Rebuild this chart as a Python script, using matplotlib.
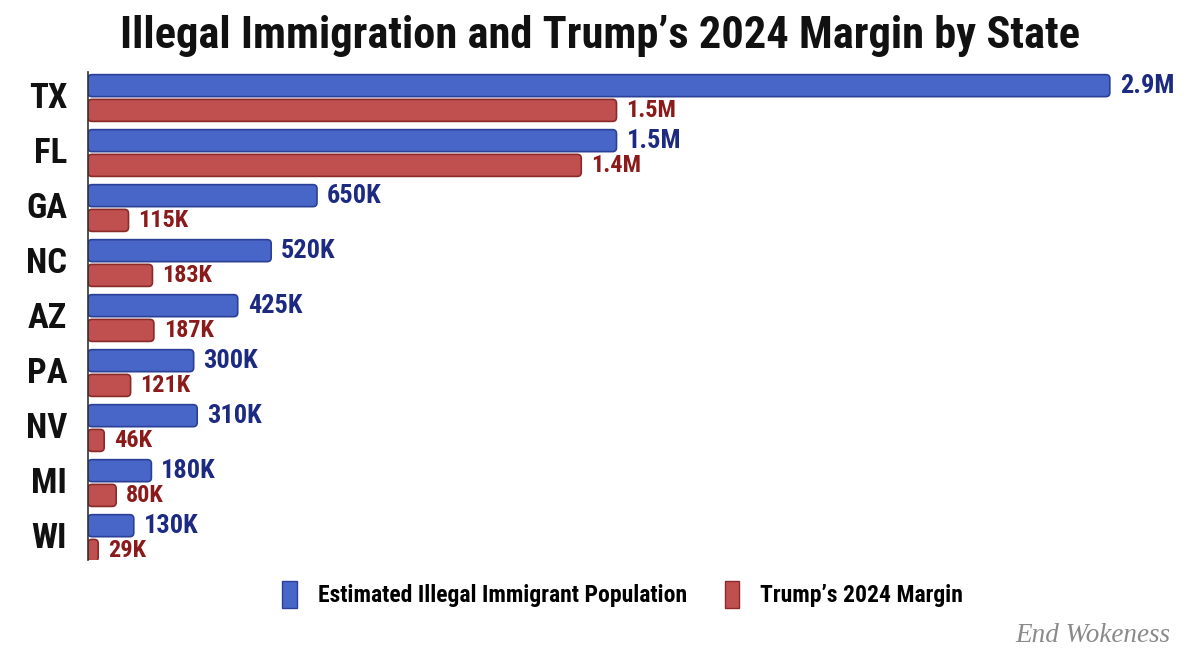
import matplotlib
matplotlib.use("Agg")
import matplotlib.pyplot as plt
from matplotlib.patches import Patch, FancyBboxPatch
import matplotlib.transforms as mtransforms
import numpy as np

states = ["TX", "FL", "GA", "NC", "AZ", "PA", "NV", "MI", "WI"]
immigrants = [2.9e6, 1.5e6, 650e3, 520e3, 425e3, 300e3, 310e3, 180e3, 130e3]
immigrant_labels = ["2.9M", "1.5M", "650K", "520K", "425K", "300K", "310K", "180K", "130K"]
margins = [1.5e6, 1.4e6, 115e3, 183e3, 187e3, 121e3, 46e3, 80e3, 29e3]
margin_labels = ["1.5M", "1.4M", "115K", "183K", "187K", "121K", "46K", "80K", "29K"]

FONT = ["Roboto Condensed", "Liberation Sans Narrow", "Roboto", "DejaVu Sans"]
plt.rcParams["font.family"] = FONT

blue = "#4866c8"
blue_edge = "#2a3f96"
red = "#c05050"
red_edge = "#8a2a28"
blue_txt = "#1c2a82"
red_txt = "#8b1a1a"

W, H = 1200, 662
fig = plt.figure(figsize=(W / 100, H / 100), dpi=100)
ax = fig.add_axes([0.0733, 0.154, 0.92, 0.737])

y = np.arange(len(states))
h = 0.40
off = 0.225
xmax = 2.9e6 * (1190 - 88) / 1020
ylim = (8.4, -0.47)
ax.set_xlim(0, xmax)
ax.set_ylim(*ylim)

b1 = ax.barh(y - off, immigrants, height=h, color=blue, edgecolor=blue_edge, linewidth=1.2)
b2 = ax.barh(y + off, margins, height=h, color=red, edgecolor=red_edge, linewidth=1.2)

# round the bar corners
ax_w_px = 0.92 * W
ax_h_px = 0.737 * H
xu = xmax / ax_w_px
yu = (ylim[0] - ylim[1]) / ax_h_px
for bars in (b1, b2):
    for p in bars.patches:
        x0, y0 = p.get_x(), p.get_y()
        w, hh = p.get_width(), p.get_height()
        r = min(4 * xu, w / 2)
        fb = FancyBboxPatch((x0, y0), w, hh,
                            boxstyle=f"round,pad=0,rounding_size={r}",
                            mutation_aspect=yu / xu,
                            facecolor=p.get_facecolor(), edgecolor=p.get_edgecolor(),
                            linewidth=1.2)
        p.set_visible(False)
        ax.add_patch(fb)

pad = xmax * 0.009
for i in range(len(states)):
    ax.text(immigrants[i] + pad, y[i] - off, immigrant_labels[i], va="center", ha="left",
            fontsize=19, fontweight="bold", color=blue_txt)
    ax.text(margins[i] + pad, y[i] + off, margin_labels[i], va="center", ha="left",
            fontsize=17.5, fontweight="bold", color=red_txt)

ax.set_yticks(y)
ax.set_yticklabels(states, fontsize=25, fontweight="bold", color="#111111")
ax.tick_params(axis="y", length=0, pad=15)
shift = mtransforms.ScaledTranslation(0, 3 / 100, fig.dpi_scale_trans)
for lab in ax.get_yticklabels():
    lab.set_transform(lab.get_transform() + shift)
ax.set_xticks([])
for s in ["top", "right", "bottom"]:
    ax.spines[s].set_visible(False)
ax.spines["left"].set_color("#333333")
ax.spines["left"].set_linewidth(1.2)

fig.text(0.5, 0.945, "Illegal Immigration and Trump’s 2024 Margin by State", ha="center", va="center",
         fontsize=32, fontweight="bold", color="#111111")

handles = [Patch(facecolor=blue, edgecolor=blue_edge, label="Estimated Illegal Immigrant Population"),
           Patch(facecolor=red, edgecolor=red_edge, label="Trump’s 2024 Margin")]
fig.legend(handles=handles, loc="center", bbox_to_anchor=(0.519, 0.102), ncol=2, frameon=False,
           prop={"family": FONT, "weight": "bold", "size": 17}, handlelength=0.6, handleheight=1.4,
           columnspacing=1.6, handletextpad=0.9)

fig.text(0.975, 0.04, "End Wokeness", ha="right", va="center", fontsize=19.5, style="italic",
         family=["Liberation Serif", "DejaVu Serif"], color="#8a8a8a")

fig.savefig("out.png", dpi=100, facecolor="white")
